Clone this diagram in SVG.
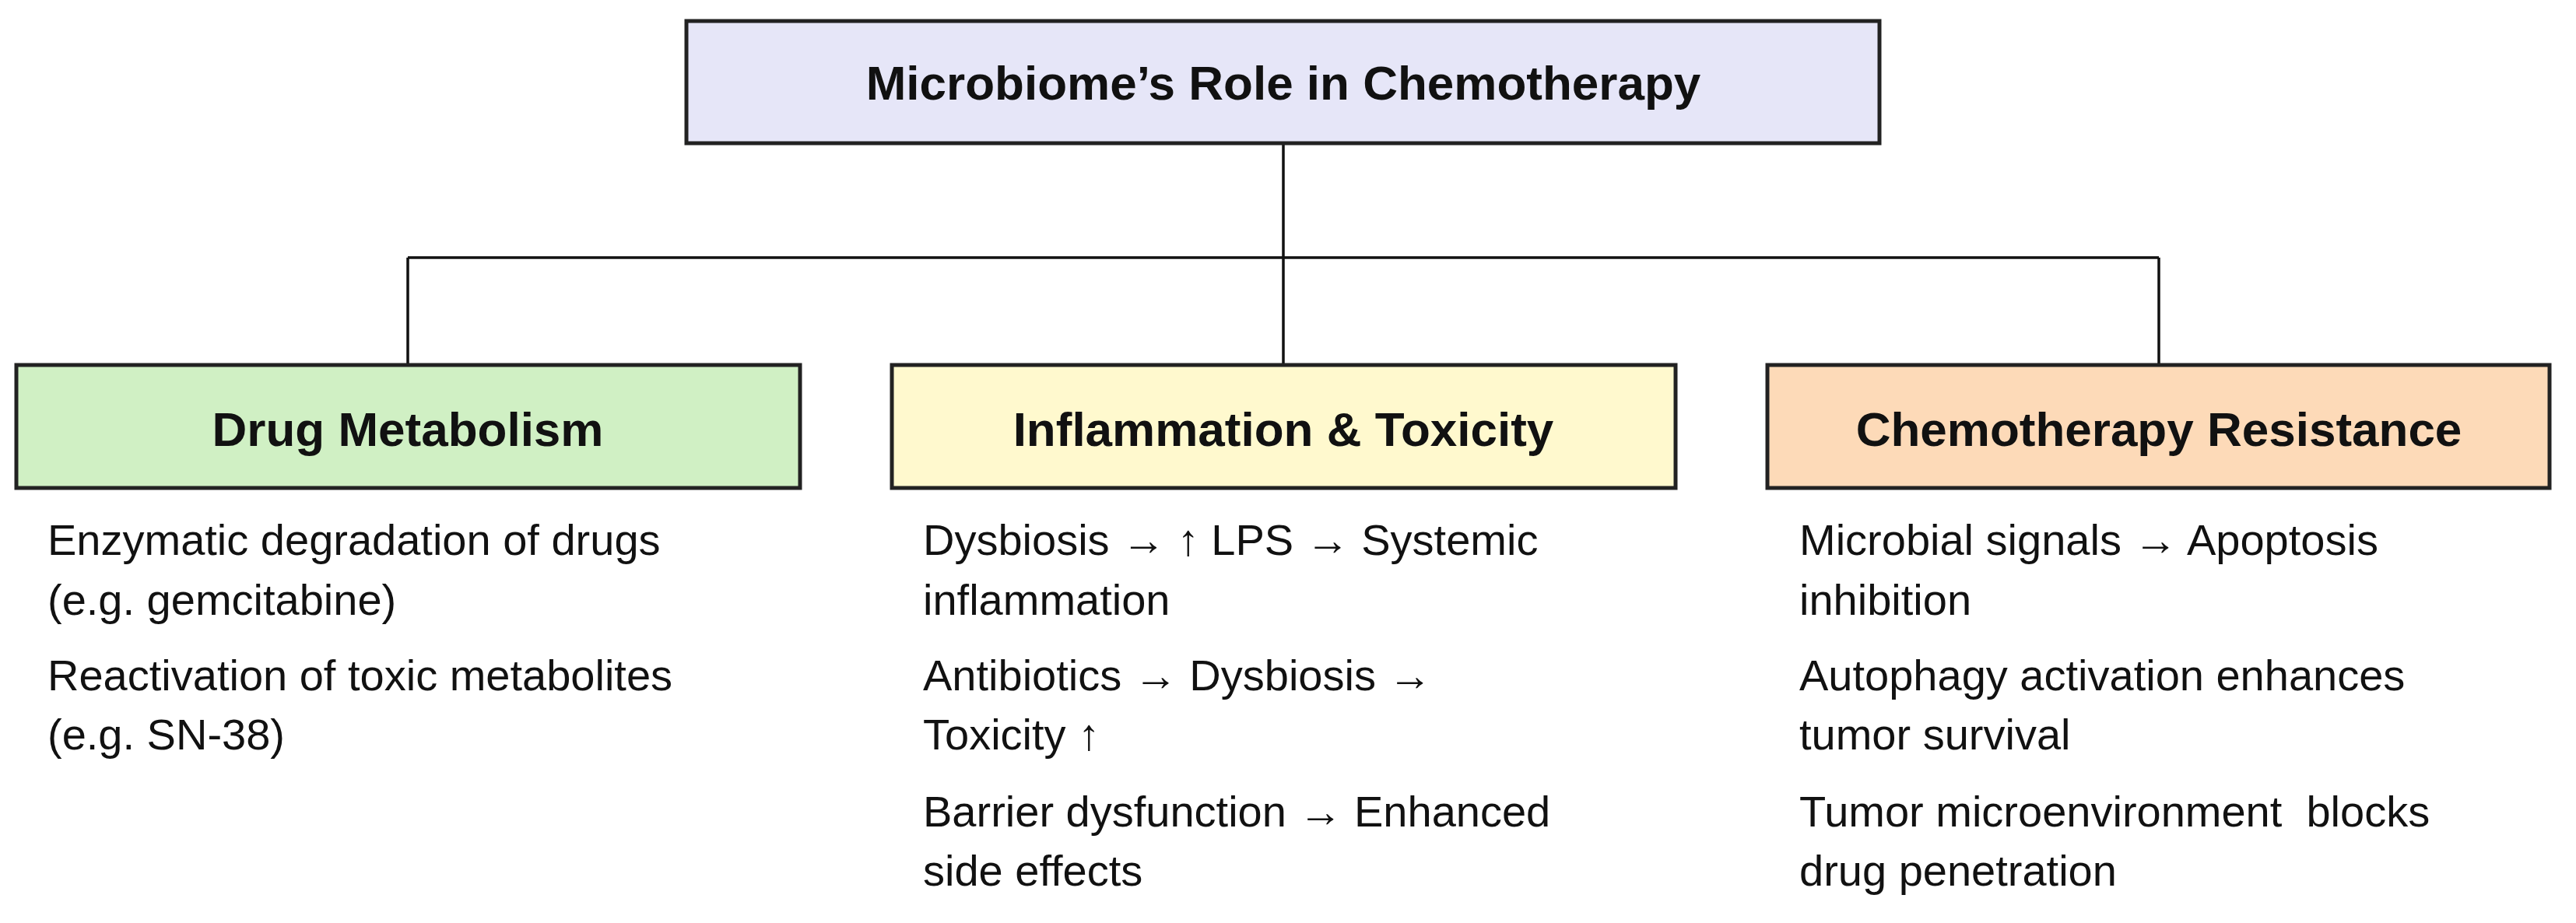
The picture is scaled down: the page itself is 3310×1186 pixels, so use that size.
<svg xmlns="http://www.w3.org/2000/svg" width="3310" height="1186" viewBox="0 0 3310 1186">
<style>
.box{stroke:#222;stroke-width:5}
.h{font-family:"Liberation Sans",Arial,sans-serif;font-weight:bold;font-size:62px;text-anchor:middle;fill:#111}
.t{font-family:"Liberation Sans",Arial,sans-serif;font-size:56px;fill:#111}
.c{stroke:#111;stroke-width:3.5;fill:none}
</style>
<rect width="3310" height="1186" fill="#fff"/>
<g id="connectors">
<path class="c" d="M1649 184V331M524 331H2774M524 331V469M1649 331V469M2774 331V469"/>
</g>
<g id="root"><rect class="box" x="882" y="27" width="1533" height="157" fill="#E6E6F8"/><text class="h" x="1649" y="128">Microbiome’s Role in Chemotherapy</text></g>
<g id="drug"><rect class="box" x="21" y="469" width="1007" height="158" fill="#D0F0C4"/><text class="h" x="524" y="573">Drug Metabolism</text>
<text class="t" x="61" y="713">Enzymatic degradation of drugs</text><text class="t" x="61" y="790">(e.g. gemcitabine)</text>
<text class="t" x="61" y="887">Reactivation of toxic metabolites</text><text class="t" x="61" y="963">(e.g. SN-38)</text></g>
<g id="inflam"><rect class="box" x="1146" y="469" width="1007" height="158" fill="#FFF9CE"/><text class="h" x="1649" y="573">Inflammation &amp; Toxicity</text>
<text class="t" x="1186" y="713">Dysbiosis → ↑ LPS → Systemic</text><text class="t" x="1186" y="790">inflammation</text>
<text class="t" x="1186" y="887">Antibiotics → Dysbiosis →</text><text class="t" x="1186" y="963">Toxicity ↑</text>
<text class="t" x="1186" y="1062">Barrier dysfunction → Enhanced</text><text class="t" x="1186" y="1138">side effects</text></g>
<g id="resist"><rect class="box" x="2271" y="469" width="1005" height="158" fill="#FDDAB8"/><text class="h" x="2774" y="573">Chemotherapy Resistance</text>
<text class="t" x="2312" y="713">Microbial signals → Apoptosis</text><text class="t" x="2312" y="790">inhibition</text>
<text class="t" x="2312" y="887">Autophagy activation enhances</text><text class="t" x="2312" y="963">tumor survival</text>
<text class="t" x="2312" y="1062" xml:space="preserve">Tumor microenvironment  blocks</text><text class="t" x="2312" y="1138">drug penetration</text></g>
</svg>
